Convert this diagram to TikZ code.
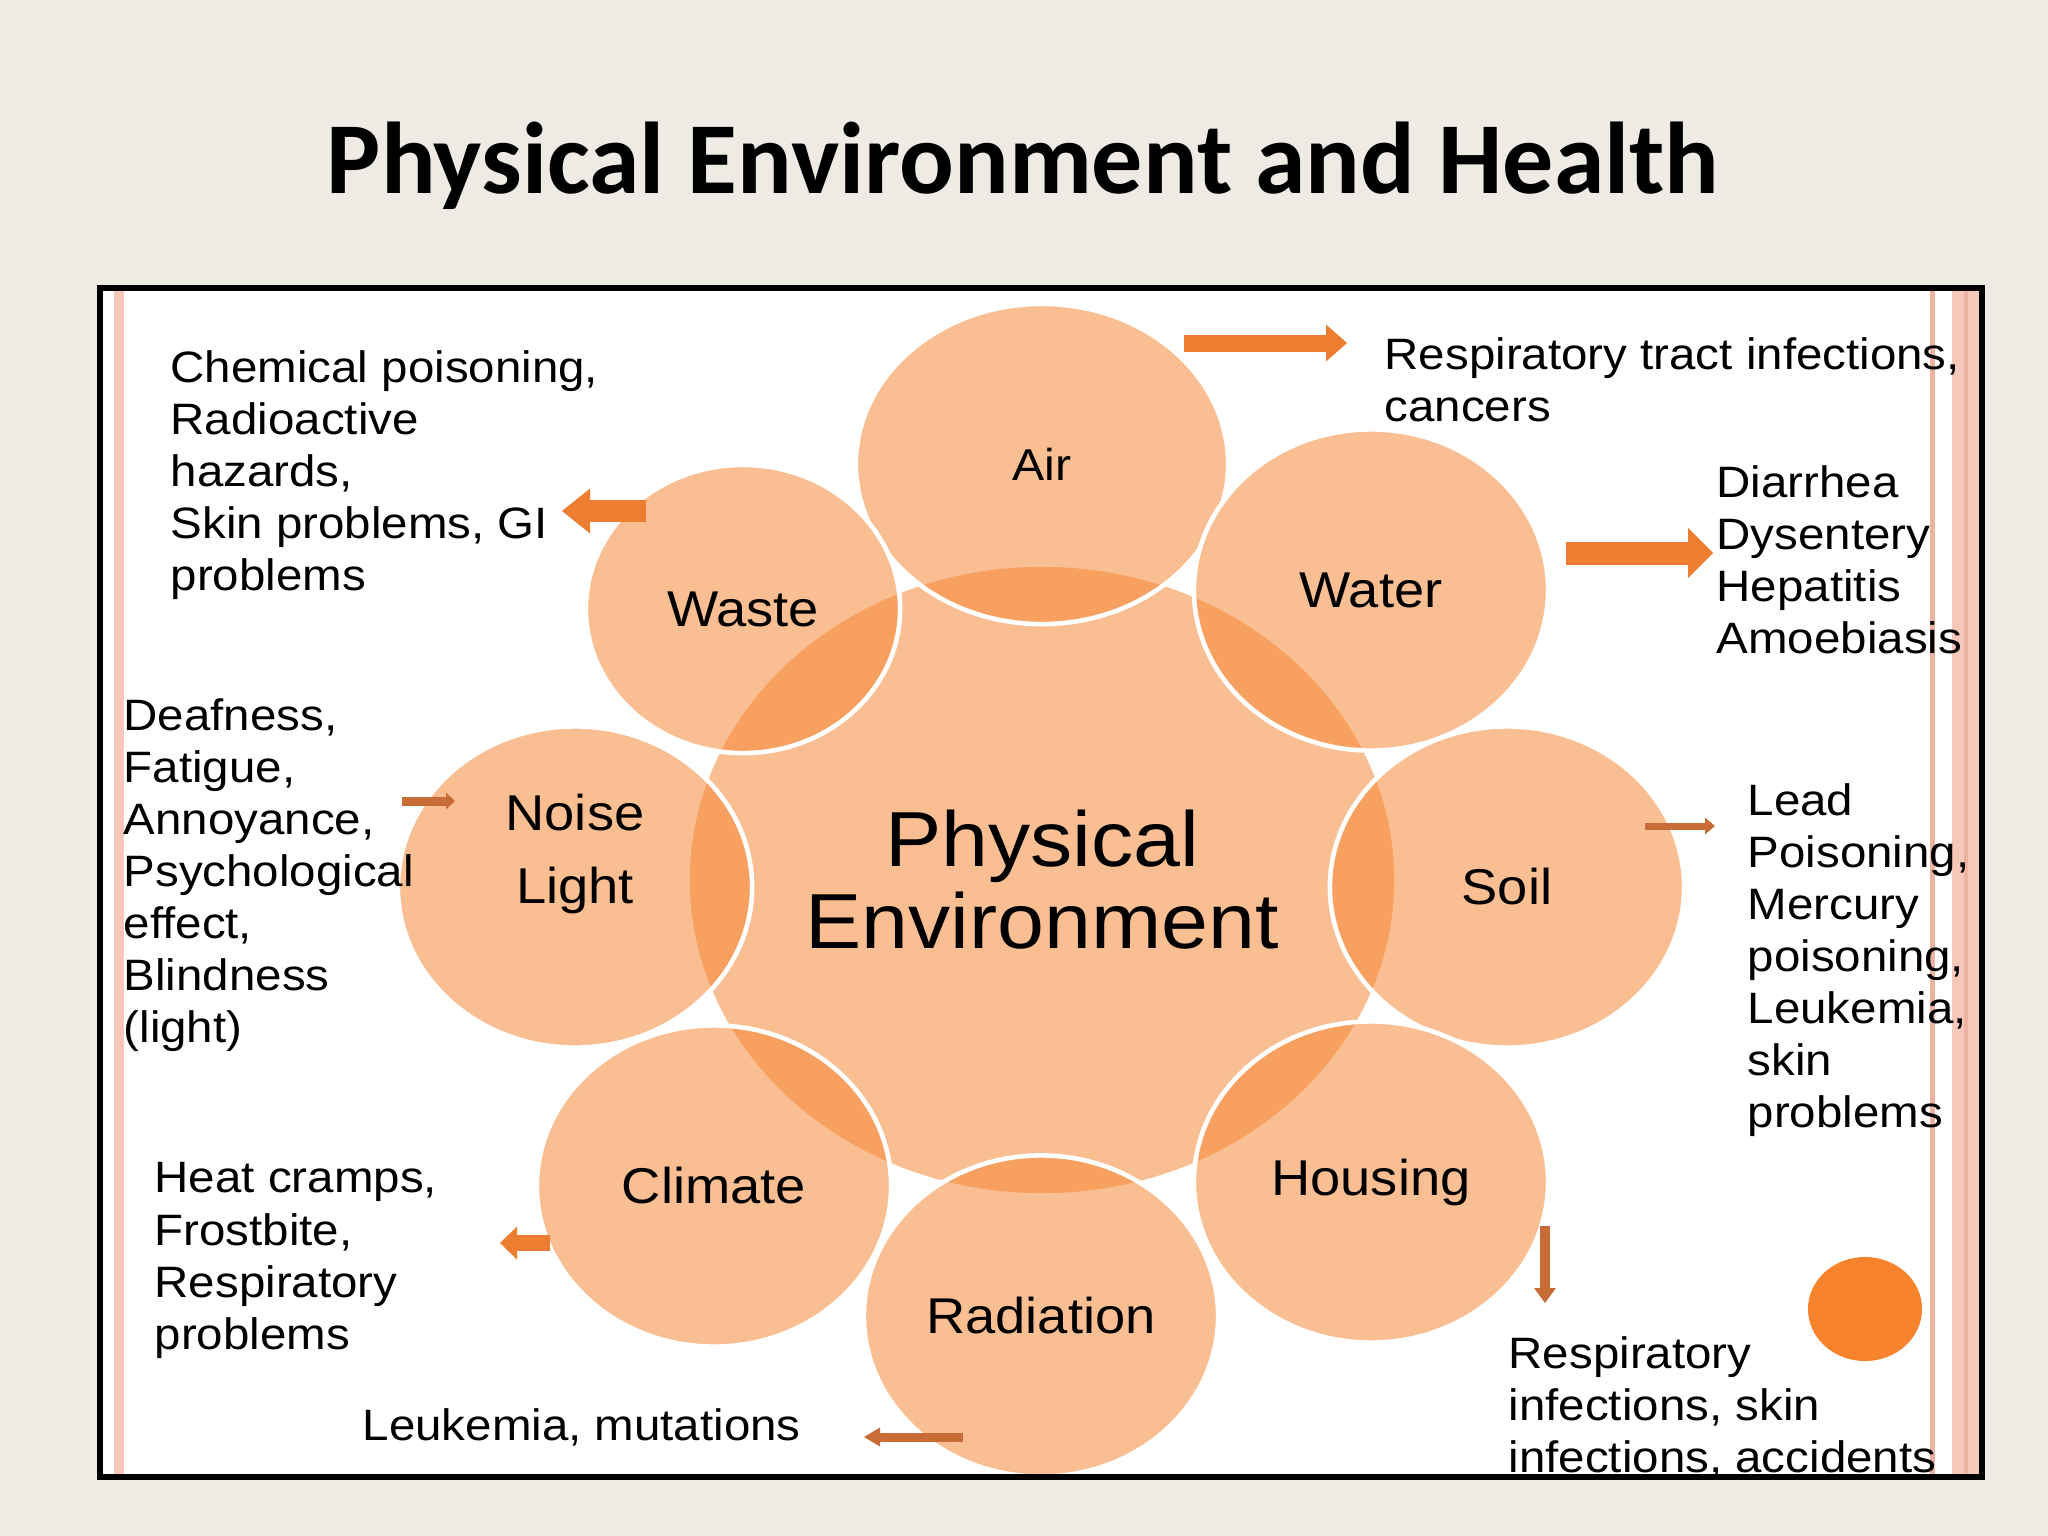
\documentclass[tikz,border=0pt]{standalone}
\usepackage{fontspec}
\setmainfont{Liberation Sans}[FakeStretch=1.08]
\newfontfamily\titlefont{Carlito}
\usetikzlibrary{shapes.geometric,arrows.meta}
\definecolor{slidebg}{RGB}{238,235,228}
\definecolor{peach}{RGB}{246,134,52}
\definecolor{dotorange}{RGB}{247,131,44}
\definecolor{arroworange}{RGB}{237,125,49}
\definecolor{arrowbrown}{RGB}{200,108,56}
\definecolor{stripe}{RGB}{246,200,185}
\definecolor{stripedark}{RGB}{238,178,160}
\tikzset{
  bubble/.style={ellipse, fill=peach, fill opacity=.53, text opacity=1, draw=white, line width=1.3pt,
    minimum width=3.54cm, minimum height=3.21cm, inner sep=0pt, align=center,
    font=\fontsize{14.3}{20.8}\selectfont},
  info/.style={anchor=north west, inner sep=0pt, align=left, font=\fontsize{12.5}{14.8}\selectfont},
  blockarrow/.style n args={4}{draw=#1, line width=#2, -{Triangle[width=#3, length=#4, line width=0pt]}}
}
\begin{document}
\begin{tikzpicture}[x=0.01cm, y=-0.01cm]
\useasboundingbox (0,0) rectangle (2048,1536);
\fill[slidebg] (0,0) rectangle (2048,1536);
\fill[white] (100,288) rectangle (1982,1477);
\fill[stripe] (114,291) rectangle (124,1474);
\fill[stripedark] (1930,291) rectangle (1935,1474);
\fill[stripe] (1952,291) rectangle (1980,1474);
\fill[stripedark] (1964,291) rectangle (1968,1474);

\node[anchor=base, font=\titlefont\bfseries\fontsize{29}{34}\selectfont] (title) at (1023,193) {Physical Environment and Health};

\node[ellipse, fill=peach, fill opacity=.53, text opacity=1, minimum width=7.04cm, minimum height=6.26cm,
  inner sep=0pt, align=center, font=\fontsize{22.2}{23.3}\selectfont] (physenv) at (1042,880) {Physical\\Environment};

\node[bubble, minimum width=3.72cm, minimum height=3.2cm, font=\fontsize{12.7}{15}\selectfont] (air) at (1042,464) {Air};
\node[bubble] (water) at (1371,590) {Water};
\node[bubble] (soil) at (1507,887) {Soil};
\node[bubble] (housing) at (1371,1182) {Housing};
\node[bubble] (radiation) at (1041,1316) {Radiation};
\node[bubble] (climate) at (714,1186) {Climate};
\node[bubble] (noise) at (575,887) {};
\node[bubble, minimum width=3.14cm, minimum height=2.88cm] (waste) at (743,609) {Waste};
\node[align=center, inner sep=0pt, font=\fontsize{14.3}{20.8}\selectfont] (noiselbl) at (575,854) {Noise\\Light};

\node[ellipse, fill=dotorange, minimum width=1.14cm, minimum height=1.04cm, inner sep=0pt] (dot) at (1865,1309) {};

\coordinate (airA) at (1184,343); \coordinate (airB) at (1347,343);
\coordinate (waterA) at (1566,553); \coordinate (waterB) at (1713,553);
\coordinate (wasteA) at (646,511); \coordinate (wasteB) at (562,511);
\coordinate (noiseA) at (402,801); \coordinate (noiseB) at (455,801);
\coordinate (soilA) at (1645,826); \coordinate (soilB) at (1715,826);
\coordinate (climateA) at (550,1243); \coordinate (climateB) at (500,1243);
\coordinate (radA) at (963,1437); \coordinate (radB) at (864,1437);
\coordinate (housingA) at (1545,1226); \coordinate (housingB) at (1545,1303);

\draw[blockarrow={arroworange}{0.17cm}{0.37cm}{0.21cm}] (airA) -- (airB);
\draw[blockarrow={arroworange}{0.23cm}{0.50cm}{0.25cm}] (waterA) -- (waterB);
\draw[blockarrow={arroworange}{0.22cm}{0.45cm}{0.28cm}] (wasteA) -- (wasteB);
\draw[blockarrow={arrowbrown}{0.09cm}{0.17cm}{0.09cm}] (noiseA) -- (noiseB);
\draw[blockarrow={arrowbrown}{0.07cm}{0.17cm}{0.10cm}] (soilA) -- (soilB);
\draw[blockarrow={arroworange}{0.16cm}{0.33cm}{0.17cm}] (climateA) -- (climateB);
\draw[blockarrow={arrowbrown}{0.09cm}{0.19cm}{0.16cm}] (radA) -- (radB);
\draw[blockarrow={arrowbrown}{0.10cm}{0.22cm}{0.15cm}] (housingA) -- (housingB);

\node[info] (wasteinfo) at (170,350) {Chemical poisoning,\\Radioactive\\hazards,\\Skin problems, GI\\problems};
\node[info] (noiseinfo) at (123,698) {Deafness,\\Fatigue,\\Annoyance,\\Psychological\\effect,\\Blindness\\(light)};
\node[info] (climateinfo) at (154,1162) {Heat cramps,\\Frostbite,\\Respiratory\\problems};
\node[info] (radinfo) at (362,1408) {Leukemia, mutations};
\node[info] (airinfo) at (1384,337) {Respiratory tract infections,\\cancers};
\node[info] (waterinfo) at (1716,465) {Diarrhea\\Dysentery\\Hepatitis\\Amoebiasis};
\node[info] (soilinfo) at (1747,783) {Lead\\Poisoning,\\Mercury\\poisoning,\\Leukemia,\\skin\\problems};
\node[info] (housinginfo) at (1508,1336) {Respiratory\\infections, skin\\infections, accidents};

\draw[line width=0.055cm] (100,288) rectangle (1982,1477);
\end{tikzpicture}
\end{document}
